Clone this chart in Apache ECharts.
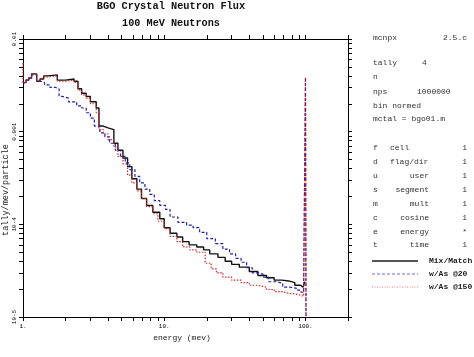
<!DOCTYPE html>
<html><head><meta charset="utf-8">
<script src="https://cdn.jsdelivr.net/npm/echarts@6/dist/echarts.min.js"></script>
<style>html,body{margin:0;padding:0;background:#fff}#c{width:474px;height:357px}</style>
</head><body><div id="c"></div>
<script>
// ---- data (energy bin upper edges in MeV, flux in tally/mev/particle) ----
const mixE = [1.0,1.05,1.1,1.15,1.25,1.32,1.4,1.5,1.75,1.85,2.0,2.3,2.45,2.6,2.8,3.0,3.3,3.45,3.7,4.0,4.4,4.7,5.1,5.5,5.9,6.4,6.9,7.5,8.3,9.3,10,11,12.3,13.5,15,17,19,21,24,27,30,34,40,46,53,60,68,76,84,92,96,99,100];
const mixFlux = [0.00335,0.0034,0.0036,0.0038,0.0042,0.0035,0.0037,0.0040,0.0041,0.0036,0.0036,0.0037,0.0035,0.0029,0.0026,0.0024,0.0021,0.0018,0.00115,0.0011,0.00105,0.00075,0.00063,0.00052,0.00042,0.00031,0.00024,0.00019,0.00016,0.000135,0.000115,0.000092,0.00008,0.000073,0.000065,0.00006,0.000057,0.000053,0.000048,0.000044,0.00004,0.000037,0.0000345,0.000031,0.000028,0.0000265,0.000025,0.0000245,0.0000235,0.000022,0.000021,0.0000205,0.000024];

const as20E = [1.0,1.05,1.1,1.15,1.25,1.32,1.42,1.55,1.7,1.8,1.9,2.1,2.4,2.6,2.8,3.0,3.2,3.5,3.8,4.1,4.5,4.9,5.3,5.7,6.2,6.7,7.3,7.9,8.5,9.3,10.2,11,12.5,14.4,16,17.8,20,23,26,29,32,35,38.3,42,46,50,55,62,69,77,86,93,97,100,101.5,103];
const as20Flux = [0.00335,0.0034,0.0036,0.0038,0.0041,0.0035,0.0034,0.0032,0.0030,0.0029,0.0024,0.0023,0.0021,0.0019,0.0018,0.0016,0.0014,0.00115,0.00097,0.00088,0.00075,0.00063,0.00054,0.00046,0.00039,0.00033,0.00028,0.00024,0.00021,0.00018,0.00016,0.000145,0.00012,0.000105,0.000098,0.000092,0.000082,0.00007,0.000062,0.000054,0.000048,0.000043,0.000039,0.000034,0.00003,0.000029,0.000027,0.000024,0.0000232,0.000021,0.0000205,0.0000195,0.0000185,0.0000195,0.0039,1e-7];

const as150E = [1.0,1.05,1.1,1.15,1.25,1.32,1.4,1.5,1.75,1.85,2.0,2.3,2.45,2.6,2.8,3.0,3.3,3.45,3.7,4.0,4.4,4.7,5.1,5.5,5.9,6.4,6.9,7.5,8.3,9.0,10,11,12.3,13.5,15.2,17,19.5,21.5,23.4,26,30,35,40,46,53,60,68,76,84,92,97,100,101.5,103];
const as150Flux = [0.0055,0.0034,0.0036,0.0038,0.0042,0.0035,0.0037,0.0039,0.0040,0.0035,0.0035,0.0036,0.0034,0.0028,0.0025,0.0023,0.002,0.0016,0.00105,0.00095,0.00082,0.00068,0.00054,0.00045,0.00034,0.00028,0.00023,0.00019,0.000155,0.00013,0.000108,0.00009,0.000074,0.000065,0.000057,0.000053,0.00005,0.000038,0.000033,0.00003,0.000027,0.000025,0.0000235,0.000022,0.000021,0.0000198,0.0000188,0.000018,0.0000178,0.0000172,0.0000168,0.000016,0.0039,1e-7];

const seriesNames = ['Mix/Match','w/As @20','w/As @150'];

// ---- axes ticks / labels ----
const xTickValues = [1,2,3,4,5,6,7,8,9,10,20,30,40,50,60,70,80,90,100,200];
const xLabelValues = [1,10,100];
const xTickLabels = ['1.','10.','100.'];
const yTickValues = [1e-5,2e-5,3e-5,4e-5,5e-5,6e-5,7e-5,8e-5,9e-5,1e-4,2e-4,3e-4,4e-4,5e-4,6e-4,7e-4,8e-4,9e-4,1e-3,2e-3,3e-3,4e-3,5e-3,6e-3,7e-3,8e-3,9e-3,1e-2];
const yLabelValues = [1e-2,1e-3,1e-4,1e-5];
const yTickLabels = ['0.01','0.001','10-4','10-5'];

const titleText = 'BGO Crystal Neutron Flux';
const subtitleText = '100 MeV Neutrons';
const xName = 'energy (mev)';
const yName = 'tally/mev/particle';

const FONT = '"Liberation Mono", "DejaVu Sans Mono", monospace';

function pairs(xs, ys){ return xs.map((x,i)=>[x, ys[i]]); }
function lookup(v, vals, labels){
  for (let i=0;i<vals.length;i++){ if (Math.abs(Math.log10(v)-Math.log10(vals[i]))<1e-6) return labels[i]; }
  return '';
}

const chart = echarts.init(document.getElementById('c'), null, {renderer:'canvas'});

function xAxisDef(pos, showLabel){
  return {
    type:'log', logBase:10, min:1, max:200, position:pos, gridIndex:0,
    axisLine:{show:true, onZero:false, lineStyle:{color:'#000', width:1}},
    axisTick:{show:true, inside:false, length:4, customValues:xTickValues, lineStyle:{color:'#000', width:1}},
    axisLabel:{show:showLabel, customValues:xLabelValues, formatter:v=>lookup(v,xLabelValues,xTickLabels),
      fontSize:6, fontFamily:FONT, color:'#000', margin:6, showMinLabel:true, showMaxLabel:true},
    splitLine:{show:false}, minorTick:{show:false}
  };
}
function yAxisDef(pos, showLabel){
  return {
    type:'log', logBase:10, min:1e-5, max:1e-2, position:pos, gridIndex:0,
    axisLine:{show:true, onZero:false, lineStyle:{color:'#000', width:1}},
    axisTick:{show:true, inside:false, length:4, customValues:yTickValues, lineStyle:{color:'#000', width:1}},
    axisLabel:{show:showLabel, customValues:yLabelValues, formatter:v=>lookup(v,yLabelValues,yTickLabels),
      rotate:90, fontSize:6, fontFamily:FONT, color:'#000', margin:6, showMinLabel:true, showMaxLabel:true},
    splitLine:{show:false}, minorTick:{show:false}
  };
}

function txt(x, y, text, opts){
  opts = opts || {};
  return {type:'text', x:x, y:y, rotation:opts.rot||0, silent:true,
    style:{text:text, x:0, y:0, fill:opts.color||'#333',
      font:(opts.bold?'bold ':'') + (opts.size||8) + 'px ' + FONT,
      align:opts.align||'left', textAlign:opts.align||'left',
      verticalAlign:'middle', textVerticalAlign:'middle'}};
}
function seg(x1, y, x2, stroke, width, dash){
  return {type:'line', silent:true, shape:{x1:x1, y1:y, x2:x2, y2:y},
    style:{stroke:stroke, lineWidth:width, lineDash:dash||null}};
}

const panel = [
  txt(373,38,'mcnpx'), txt(467,38,'2.5.c',{align:'right'}),
  txt(373,63,'tally'), txt(422,63,'4'),
  txt(373,77,'n'),
  txt(373,92,'nps'), txt(417,92,'1000000'),
  txt(373,106,'bin normed'),
  txt(373,119,'mctal = bgo01.m')
];
const rows = [['f','cell','1','l'],['d','flag/dir','1','l'],['u','user','1','r'],['s','segment','1','r'],
  ['m','mult','1','r'],['c','cosine','1','r'],['e','energy','*','r'],['t','time','1','r']];
rows.forEach((r,i)=>{
  const y = 148 + i*13.9;
  panel.push(txt(373,y,r[0]));
  if (r[3]==='l') panel.push(txt(390,y,r[1])); else panel.push(txt(429,y,r[1],{align:'right'}));
  panel.push(txt(467,y,r[2],{align:'right'}));
});
// legend (key) drawn as graphic samples
const legendY = [261, 274, 287];
panel.push(seg(372, legendY[0], 418, '#555', 2));
panel.push(seg(372, legendY[1], 418, '#6a6ae0', 1, [3,2]));
panel.push(seg(372, legendY[2], 418, '#ee7777', 1, [1,1.5]));
seriesNames.forEach((n,i)=>panel.push(txt(429, legendY[i], n, {bold:true, color:'#222'})));

const option = {
  backgroundColor:'#fff',
  animation:false,
  grid:{left:23, right:126, top:39, bottom:40, containLabel:false, outerBoundsMode:'none'},
  xAxis:[xAxisDef('bottom',true), xAxisDef('top',false)],
  yAxis:[yAxisDef('left',true), yAxisDef('right',false)],
  series:[
    {name:seriesNames[0], type:'line', step:'start', symbol:'none', clip:true, xAxisIndex:0, yAxisIndex:0,
     data:pairs(mixE, mixFlux), lineStyle:{color:'#111', width:1.4}, itemStyle:{color:'#555'}},
    {name:seriesNames[1], type:'line', step:'start', symbol:'none', clip:true, xAxisIndex:0, yAxisIndex:0,
     data:pairs(as20E, as20Flux), lineStyle:{color:'#2020a8', width:1.2, type:[3,2]}, itemStyle:{color:'#2020a8'}},
    {name:seriesNames[2], type:'line', step:'start', symbol:'none', clip:true, xAxisIndex:0, yAxisIndex:0,
     data:pairs(as150E, as150Flux), lineStyle:{color:'#d02828', width:1.2, type:[1.5,1.5]}, itemStyle:{color:'#d02828'}}
  ],
  graphic:[
    txt(171,6,titleText,{size:10.3,bold:true,color:'#111',align:'center'}),
    txt(171,23,subtitleText,{size:10.2,bold:true,color:'#111',align:'center'}),
    txt(182,338,xName,{size:8,color:'#222',align:'center'}),
    txt(6,190,yName,{size:8.5,color:'#222',align:'center',rot:Math.PI/2})
  ].concat(panel)
};
chart.setOption(option);
</script>
</body></html>
